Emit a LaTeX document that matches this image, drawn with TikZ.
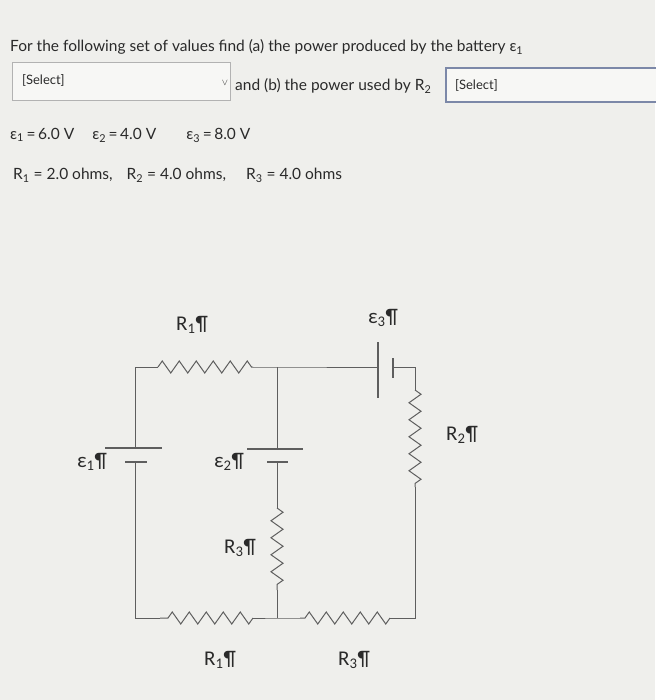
\documentclass[tikz,border=0pt]{standalone}
\usepackage{fontspec}
\setmainfont{Lato}
\newfontfamily\carlitofont{Carlito}
\usetikzlibrary{decorations.pathmorphing}
\definecolor{bg}{HTML}{EFEFEC}
\definecolor{txt}{HTML}{2A2A2A}
\definecolor{wire}{HTML}{5E5E5E}
\definecolor{boxb}{HTML}{7C88A8}
\tikzset{
  wr/.style={draw=wire,line width=1pt},
  res/.style={wr,decorate,decoration={zigzag,segment length=17pt,amplitude=6pt}},
  plate/.style={draw=wire,line width=1.1pt},
  splate/.style={draw=wire,line width=2.4pt},
  hd/.style={anchor=west,text=txt,font=\fontsize{15.5}{17}\selectfont,inner sep=0},
  lb/.style={text=txt,font=\carlitofont\fontsize{21}{23}\selectfont,inner sep=0}
}
\newcommand{\ssub}[1]{\textsubscript{#1}}
\begin{document}
\begin{tikzpicture}[x=1pt,y=-1pt]
\fill[bg] (0,0) rectangle (655,700);
\useasboundingbox (0,0) rectangle (655,700);
% header
\node[hd] (q) at (10,47) {For the following set of values find (a) the power produced by the battery ε\ssub{1}};
\draw[draw=gray!60,fill=white!50!bg] (12,62) rectangle (230,100);
\node[hd,font=\fontsize{13}{14}\selectfont] (s1) at (22,80) {[Select]};
\node[text=txt,font=\fontsize{9}{9}\selectfont\bfseries] (v1) at (225,83) {$\vee$};
\node[hd] (b) at (235,86) {and (b) the power used by R\ssub{2}};
\draw[draw=boxb,line width=1.3pt,fill=white!50!bg] (446,68) rectangle (660,102);
\node[hd,font=\fontsize{13}{14}\selectfont] (s2) at (455,85) {[Select]};
\node[hd] (e) at (10,135) {ε\ssub{1}\,=\,6.0 V\hspace{18pt}ε\ssub{2}\,=\,4.0 V\hspace{30pt}ε\ssub{3}\,=\,8.0 V};
\node[hd] (r) at (13,175) {R\ssub{1} = 2.0 ohms,\hspace{14pt}R\ssub{2} = 4.0 ohms,\hspace{20pt}R\ssub{3} = 4.0 ohms};
% circuit coordinates
\coordinate (tl) at (135,367);
\coordinate (r1a) at (158,367);
\coordinate (r1b) at (253,367);
\coordinate (j) at (277,367);
\coordinate (e3a) at (378,367);
\coordinate (e3b) at (393,367);
\coordinate (tr) at (415,367);
\coordinate (r2a) at (415,390);
\coordinate (r2b) at (415,487);
\coordinate (br) at (415,618);
\coordinate (r3ba) at (390,618);
\coordinate (r3bb) at (300,618);
\coordinate (jb) at (277,618);
\coordinate (r1ba) at (253,618);
\coordinate (r1bb) at (160,618);
\coordinate (bl) at (135,618);
\coordinate (e1a) at (135,448);
\coordinate (e1b) at (135,462);
\coordinate (e2a) at (277,449);
\coordinate (e2b) at (277,462);
\coordinate (r3a) at (277,508);
\coordinate (r3b) at (277,590);
% wires
\draw[wr] (e1a) -- (tl) -- (r1a);
\draw[res] (r1a) -- (r1b);
\draw[wr] (r1b) -- (j) -- (e3a);
\draw[plate] (378,342) -- (378,398);
\draw[splate] (393,358) -- (393,378);
\draw[wr] (e3b) -- (tr) -- (r2a);
\draw[res] (r2a) -- (r2b);
\draw[wr] (r2b) -- (br) -- (r3ba);
\draw[res] (r3ba) -- (r3bb);
\draw[wr] (r3bb) -- (jb) -- (r1ba);
\draw[res] (r1ba) -- (r1bb);
\draw[wr] (r1bb) -- (bl) -- (e1b);
\draw[plate] (105,448) -- (162,448);
\draw[splate] (125,462) -- (147,462);
\draw[wr] (j) -- (e2a);
\draw[plate] (247,449) -- (303,449);
\draw[splate] (267,462) -- (288,462);
\draw[wr] (e2b) -- (r3a);
\draw[res] (r3a) -- (r3b);
\draw[wr] (r3b) -- (jb);
% labels
\node[lb] (lR1t) at (192,325) {R\ssub{1}¶};
\node[lb] (lE3) at (383,318) {ε\ssub{3}¶};
\node[lb] (lR2) at (462,435) {R\ssub{2}¶};
\node[lb] (lE1) at (92,462) {ε\ssub{1}¶};
\node[lb] (lE2) at (229,462) {ε\ssub{2}¶};
\node[lb] (lR3) at (240,548) {R\ssub{3}¶};
\node[lb] (lR1b) at (220,660) {R\ssub{1}¶};
\node[lb] (lR3b) at (354,660) {R\ssub{3}¶};
\end{tikzpicture}
\end{document}
